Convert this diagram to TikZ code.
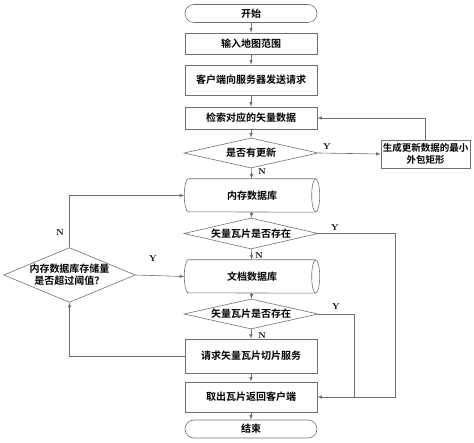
\documentclass[tikz,border=0pt]{standalone}
\usepackage{fontspec}
\newfontfamily\cjk{Noto Sans CJK SC Bold}
\usetikzlibrary{shapes,arrows}

\definecolor{linegray}{HTML}{707070}

\tikzset{
  flow/.style={draw=linegray, line width=0.6pt, ->, >=latex},
  procbox/.style={draw=linegray, line width=0.6pt, rectangle, minimum width=132pt,
    inner sep=2pt, align=center, font=\cjk\fontsize{10}{12}\selectfont},
  endbox/.style={procbox, rounded corners=9pt, minimum height=18pt},
  decide/.style={draw=linegray, line width=0.6pt, diamond, aspect=4.4, inner sep=0pt,
    minimum width=134pt, minimum height=30pt, align=center, font=\cjk\fontsize{10}{12}\selectfont},
  store/.style={rectangle, minimum width=135pt, minimum height=33pt,
    font=\cjk\fontsize{10}{12}\selectfont},
  yn/.style={font=\bfseries\fontsize{8.5}{9}\selectfont}
}

% outline of a lying cylinder round a store node
\newcommand{\storeoutline}[1]{%
  \draw[draw=linegray, line width=0.6pt] ([xshift=-4pt]#1.north east) -- ([xshift=4pt]#1.north west)
    arc[start angle=90, end angle=270, x radius=4pt, y radius=16.5pt]
    -- ([xshift=-4pt]#1.south east);
  \draw[draw=linegray, line width=0.6pt] ([xshift=-4pt]#1.east) ellipse[x radius=4pt, y radius=16.5pt];
}

\begin{document}
\begin{tikzpicture}[x=1pt,y=-1pt]
\useasboundingbox (0,0) rectangle (474,443);
% main column
\node[endbox] (start) at (251,13.5) {开始};
\node[procbox, minimum height=21pt] (range) at (251,43.5) {输入地图范围};
\node[procbox, minimum height=30pt] (client) at (251,80) {客户端向服务器发送请求};
\node[procbox, minimum height=22pt] (search) at (251,118) {检索对应的矢量数据};
\node[decide] (update) at (251,153) {是否有更新};
\node[store] (memdb) at (252,195.5) {内存数据库};
\node[decide, minimum height=31pt] (exist1) at (251,233.5) {矢量瓦片是否存在};
\node[store] (docdb) at (252,276.5) {文档数据库};
\node[decide] (exist2) at (251,314) {矢量瓦片是否存在};
\node[procbox, minimum height=34pt] (request) at (251,356) {请求矢量瓦片切片服务};
\node[procbox, minimum height=30pt] (fetch) at (251,397) {取出瓦片返回客户端};
\node[endbox] (finish) at (251,429) {结束};
\storeoutline{memdb}
\storeoutline{docdb}

% side nodes
\node[procbox, minimum width=89pt, minimum height=28pt, inner sep=1pt,
  font=\cjk\fontsize{9.5}{12}\selectfont] (mbr) at (425.5,154) {生成更新数据的最小\\外包矩形};
\node[decide, aspect=2.4, minimum width=131pt, minimum height=54pt] (full) at (69.5,275)
  {内存数据库存储量\\是否超过阈值？};

\draw[flow] (start) -- (range);
\draw[flow] (range) -- (client);
\draw[flow] (client) -- (search);
\draw[flow] (search) -- (update);
\draw[flow] (update) -- (memdb);
\draw[flow] (memdb) -- (exist1);
\draw[flow] (exist1) -- (docdb);
\draw[flow] (docdb) -- (exist2);
\draw[flow] (exist2) -- (request);
\draw[flow] (request) -- (fetch);
\draw[flow] (fetch) -- (finish);

\draw[flow] (update.east) -- (mbr.west);
\draw[flow] (mbr.north) |- (search.east);
\draw[flow] (exist1.east) -- (395,233.5) |- (fetch.east);
\coordinate (join) at (354,397);
\draw[draw=linegray, line width=0.6pt] (exist2.east) -| (join);
\draw[flow] (request.west) -| (full.south);
\draw[flow] (full.east) -- (docdb.west);
\draw[flow] (full.north) |- (memdb.west);

% labels
\node[yn] at (327,147) {Y};
\node[yn] at (262,172) {N};
\node[yn] at (335,228) {Y};
\node[yn] at (259,256) {N};
\node[yn] at (336,307) {Y};
\node[yn] at (262,336) {N};
\node[yn] at (153,259) {Y};
\node[yn] at (60,233) {N};
\end{tikzpicture}
\end{document}
